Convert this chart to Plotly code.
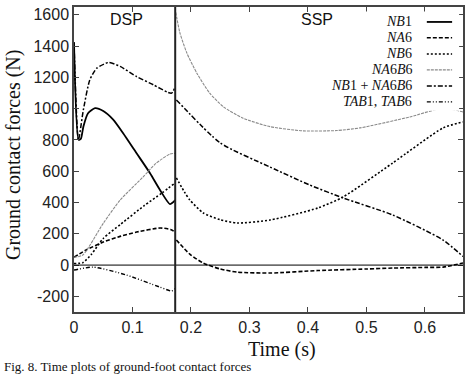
import plotly.graph_objects as go

# ---------------- data ----------------
# Double support phase (DSP) and single support phase (SSP)
T_SWITCH = 0.173

nb1_x = [0.0, 0.008, 0.012, 0.016, 0.024, 0.036, 0.05, 0.067, 0.084, 0.107, 0.13, 0.147, 0.164, 0.173]
nb1_y = [1425, 800, 810, 885, 971, 1003, 985, 930, 843, 715, 587, 480, 390, 416]

na6_x = [0.0, 0.02, 0.05, 0.08, 0.107, 0.147, 0.165, 0.173, None,
         0.175, 0.198, 0.221, 0.25, 0.279, 0.335, 0.417, 0.5, 0.545, 0.6, 0.631, 0.665]
na6_y = [50, 95, 147, 185, 211, 237, 228, 211, None,
         160, 70, 13, -25, -45, -51, -35, -25, -19, -15, -13, 13]

nb6_x = [0.0, 0.015, 0.03, 0.05, 0.08, 0.12, 0.15, 0.173, None,
         0.175, 0.19, 0.198, 0.221, 0.25, 0.279, 0.335, 0.417, 0.46, 0.545, 0.631, 0.665]
nb6_y = [10, 15, 70, 170, 262, 380, 460, 525, None,
         557, 460, 416, 333, 290, 269, 288, 365, 435, 653, 877, 915]

na6b6_x = [0.0, 0.015, 0.05, 0.079, 0.118, 0.14, 0.164, 0.173, None,
           0.174, 0.181, 0.193, 0.21, 0.232, 0.255, 0.289, 0.335, 0.392, 0.449, 0.489,
           0.574, 0.631, 0.665]
na6b6_y = [50, 64, 267, 416, 563, 650, 710, 715, None,
           1615, 1485, 1355, 1227, 1099, 1013, 939, 885, 858, 860, 877,
           947, 1003, 979]

nb1na6b6_x = [0.0, 0.0075, 0.016, 0.027, 0.039, 0.059, 0.079, 0.107, 0.136, 0.161, 0.167, 0.172, None,
              0.175, 0.25, 0.335, 0.403, 0.46, 0.545, 0.631, 0.665]
nb1na6b6_y = [1425, 800, 992, 1184, 1259, 1295, 1270, 1205, 1152, 1103, 1099, 1130, None,
              1056, 781, 627, 512, 429, 320, 160, 55]

tab_x = [0.0, 0.033, 0.09, 0.147, 0.167, 0.173]
tab_y = [-32, -13, -64, -141, -166, -150]

x_ticks = [0, 0.1, 0.2, 0.3, 0.4, 0.5, 0.6]
x_tick_labels = ["0", "0.1", "0.2", "0.3", "0.4", "0.5", "0.6"]
y_ticks = [-200, 0, 200, 400, 600, 800, 1000, 1200, 1400, 1600]
y_tick_labels = [str(v) for v in y_ticks]

legend_names = ["<i>NB</i>1", "<i>NA</i>6", "<i>NB</i>6", "<i>NA</i>6<i>B</i>6",
                "<i>NB</i>1 + <i>NA</i>6<i>B</i>6", "<i>TAB</i>1, <i>TAB</i>6"]

# ---------------- styles ----------------
styles = [
    dict(color="black", width=1.8, dash="solid"),
    dict(color="black", width=1.6, dash="4px,2px"),
    dict(color="black", width=1.6, dash="2px,2px"),
    dict(color="#8a8a8a", width=1.1, dash="3px,1px"),
    dict(color="black", width=1.5, dash="5px,2px,2px,2px"),
    dict(color="black", width=1.4, dash="4px,2px,1px,2px,1px,2px"),
]

series = [(nb1_x, nb1_y), (na6_x, na6_y), (nb6_x, nb6_y), (na6b6_x, na6b6_y),
          (nb1na6b6_x, nb1na6b6_y), (tab_x, tab_y)]

fig = go.Figure()
for (xs, ys), st, name in zip(series, styles, legend_names):
    fig.add_trace(go.Scatter(x=xs, y=ys, mode="lines", name=name,
                             line=dict(shape="spline", smoothing=0.6, **st),
                             connectgaps=False, showlegend=False))

X_RANGE = [0, 0.665]
Y_RANGE = [-300, 1650]

# zero line and phase separator
fig.add_shape(type="line", xref="paper", yref="y", x0=0, x1=1, y0=0, y1=0,
              line=dict(color="black", width=1))
fig.add_shape(type="line", xref="x", yref="paper", x0=T_SWITCH, x1=T_SWITCH, y0=0, y1=1,
              line=dict(color="#222", width=2))

# phase labels
fig.add_annotation(x=0.089, y=1568, xref="x", yref="y", text="DSP", showarrow=False,
                   font=dict(family="Liberation Sans, Arial", size=16, color="#111"))
fig.add_annotation(x=0.415, y=1568, xref="x", yref="y", text="SSP", showarrow=False,
                   font=dict(family="Liberation Sans, Arial", size=16, color="#111"))

# manual legend (text left of sample, as in the original)
fig.add_shape(type="rect", xref="paper", yref="paper", x0=0.68, x1=0.99, y0=0.66, y1=0.985,
              fillcolor="white", line=dict(width=0), layer="above")
row_y = [0.951, 0.899, 0.846, 0.794, 0.741, 0.689]
for name, st, ry in zip(legend_names, styles, row_y):
    fig.add_annotation(x=0.873, y=ry, xref="paper", yref="paper", text=name, showarrow=False,
                       xanchor="right", yanchor="middle",
                       font=dict(family="Liberation Serif, Times New Roman", size=14, color="#111"))
    fig.add_shape(type="line", xref="paper", yref="paper", x0=0.907, x1=0.972, y0=ry, y1=ry,
                  line=st, layer="above")

# axis titles placed as in the reference
fig.add_annotation(x=0.535, y=-0.122, xref="paper", yref="paper", text="Time (s)",
                   showarrow=False, xanchor="center", yanchor="middle",
                   font=dict(family="Liberation Serif, Times New Roman", size=20, color="#111"))
fig.add_annotation(x=-0.154, y=0.515, xref="paper", yref="paper", text="Ground contact forces (N)",
                   showarrow=False, xanchor="center", yanchor="middle", textangle=-90,
                   font=dict(family="Liberation Serif, Times New Roman", size=20, color="#111"))

# caption at the bottom edge
fig.add_annotation(x=-0.185, y=-0.211, xref="paper", yref="paper",
                   text="Fig. 8. Time plots of ground-foot contact forces",
                   showarrow=False, xanchor="left", yanchor="bottom",
                   font=dict(family="Liberation Serif, Times New Roman", size=13, color="#111"))

axis_common = dict(showline=True, mirror="ticks", linecolor="#444", linewidth=1.5,
                   ticks="inside", ticklen=5, tickcolor="#444", showgrid=False, zeroline=False,
                   automargin=False,
                   tickfont=dict(family="Liberation Sans, Arial", size=16, color="#222"))

fig.update_layout(
    width=474, height=378,
    margin=dict(l=74, r=11, t=7, b=66),
    paper_bgcolor="white", plot_bgcolor="white",
    xaxis=dict(range=X_RANGE, tickvals=x_ticks, ticktext=x_tick_labels, **axis_common),
    yaxis=dict(range=Y_RANGE, tickvals=y_ticks, ticktext=y_tick_labels, **axis_common),
)

fig.write_html("out.html", config={"displayModeBar": False},
               post_script="document.body.style.margin='0';")
